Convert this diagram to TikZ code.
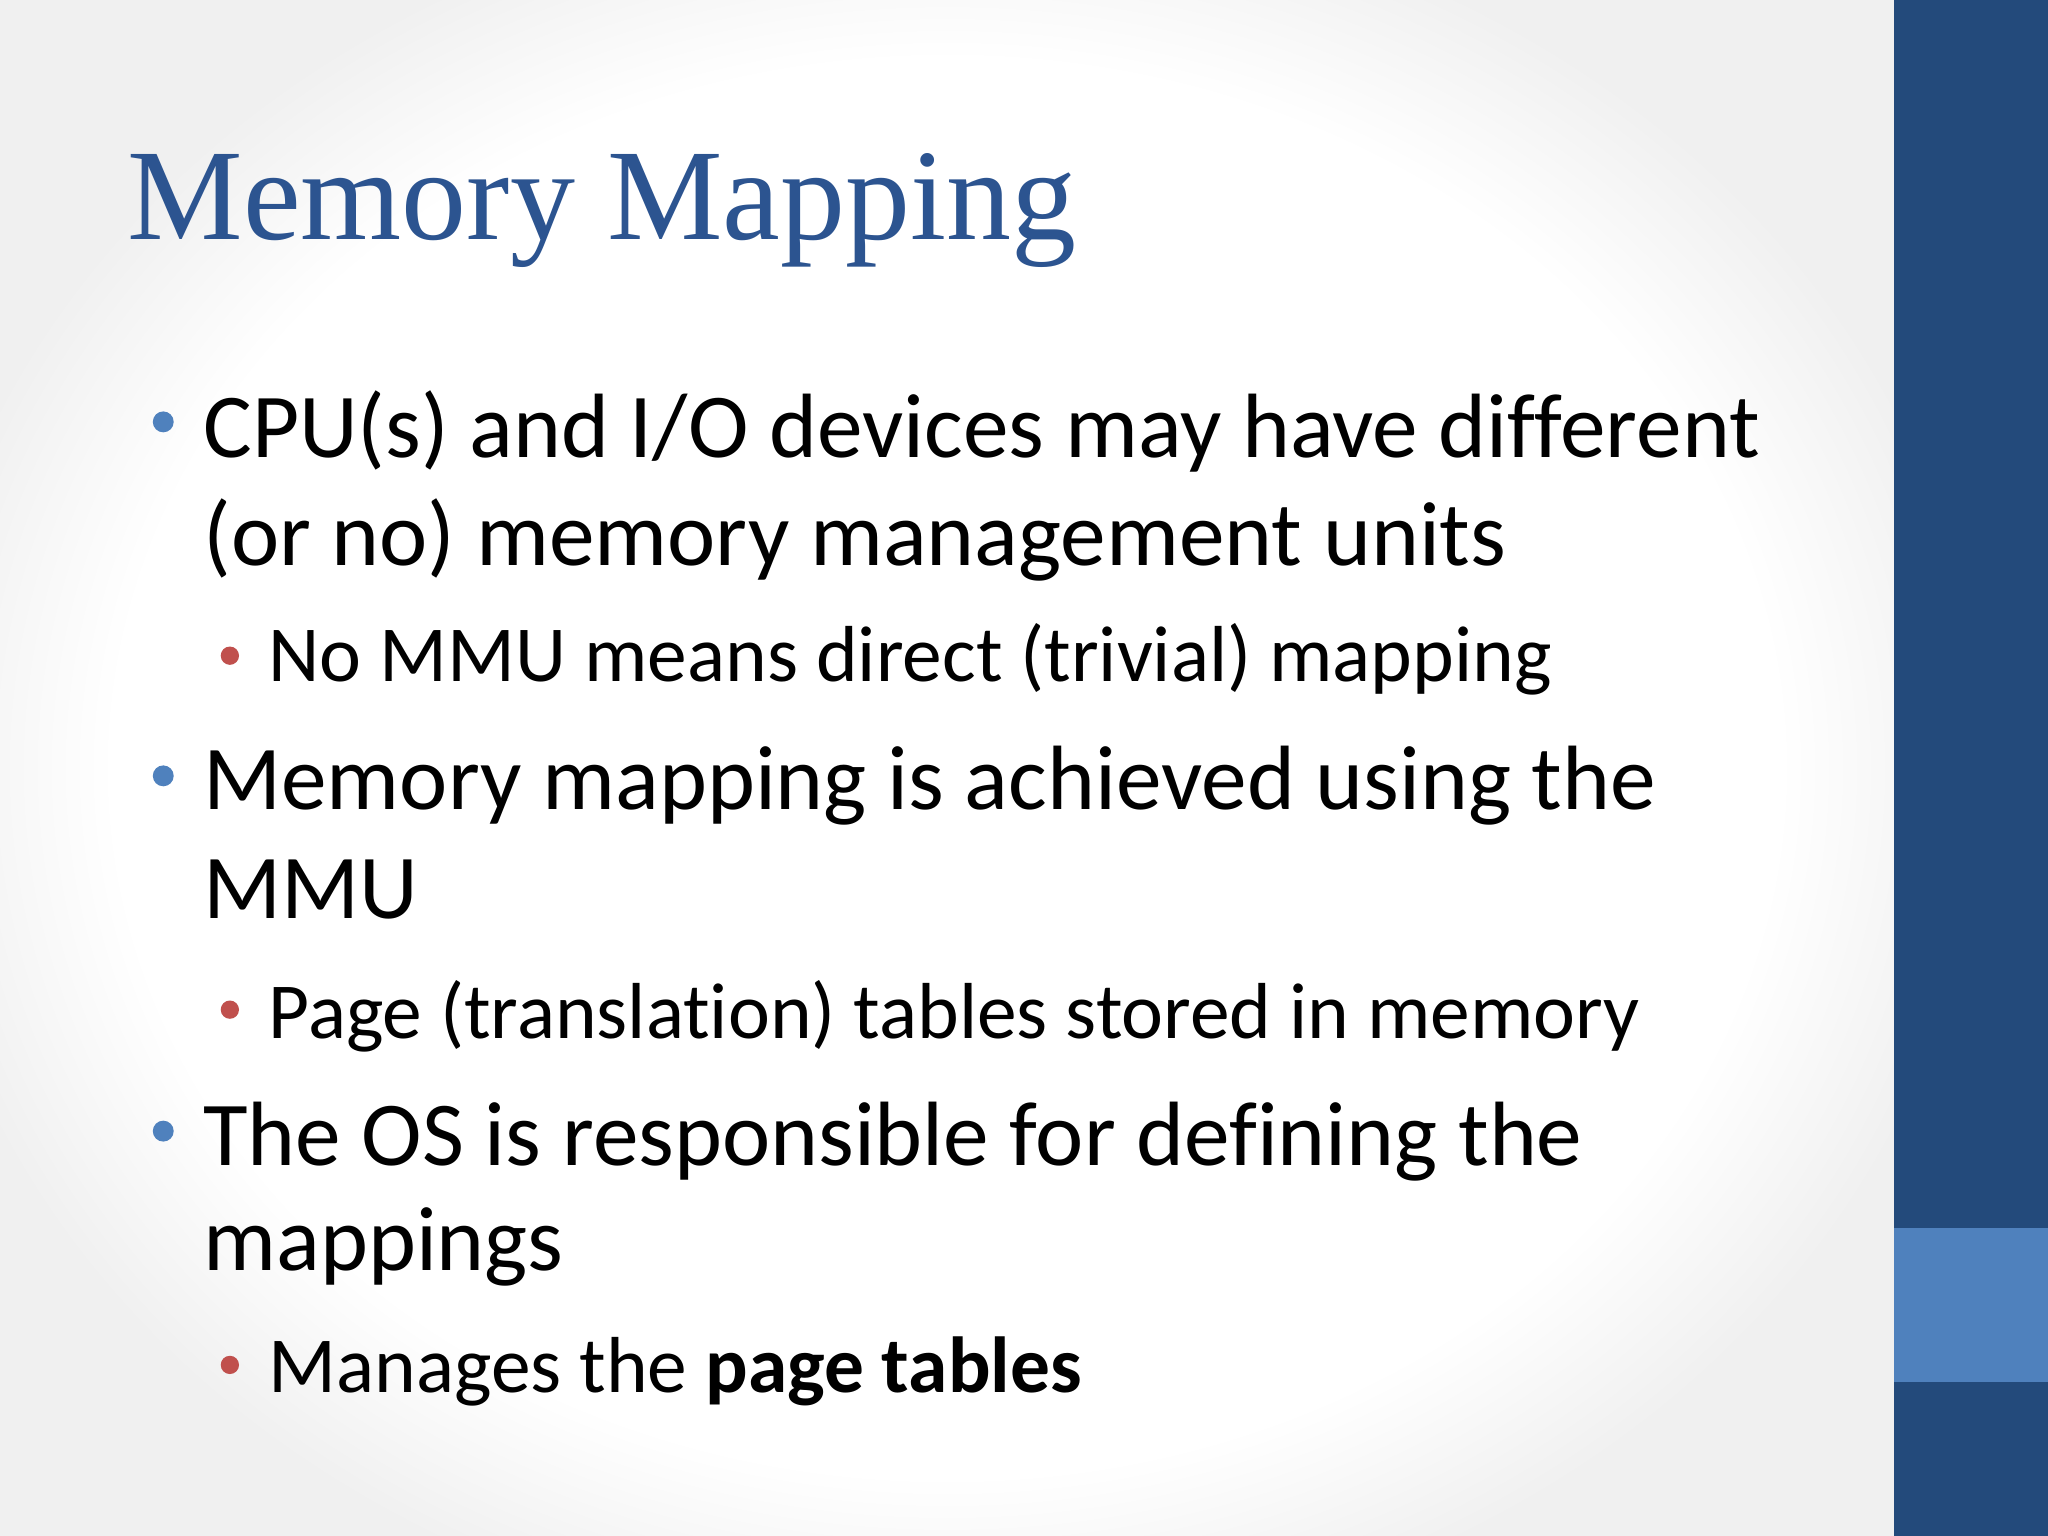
\documentclass[tikz,border=0pt]{standalone}
\usepackage{fontspec}
\usetikzlibrary{fadings}
\setmainfont[Ligatures=NoCommon]{Carlito}
\newfontfamily\titlefont{Liberation Serif}
\definecolor{darkbar}{HTML}{234A7B}
\definecolor{lightbar}{HTML}{4F81BD}
\definecolor{titleblue}{HTML}{2C5490}
\definecolor{bulblue}{HTML}{4F81BD}
\definecolor{bulred}{HTML}{C0504D}
\begin{document}
\begin{tikzpicture}[x=0.1mm,y=-0.1mm,
  main/.style={anchor=base west,inner sep=0,font=\fontsize{19.9}{24}\selectfont},
  sub/.style={anchor=base west,inner sep=0,font=\fontsize{17.3}{21}\selectfont},
  bdot/.style={fill=bulblue,draw=none},
  rdot/.style={fill=bulred,draw=none}]
\useasboundingbox (0,0) rectangle (1568,1176);
\fill[black!6] (0,0) rectangle (1450,1176);
\fill[white,path fading=circle with fuzzy edge 20 percent] (725,588) ellipse (800 and 680);
\fill[darkbar] (1450,0) rectangle (1568,1176);
\fill[lightbar] (1450,940) rectangle (1568,1058);
\node[anchor=base west,inner sep=0,text=titleblue,font=\titlefont\fontsize{28.3}{34}\selectfont] (title) at (97,183) {Memory Mapping};
\fill[bdot] (125,323) circle (8);
\node[main] (l1) at (155,350) {CPU(s) and I/O devices may have different};
\node[main] (l1b) at (155,433) {(or no) memory management units};
\fill[rdot] (176,502) circle (7);
\node[sub] (s1) at (205,522) {No MMU means direct (trivial) mapping};
\fill[bdot] (125,594) circle (8);
\node[main] (l2) at (155,620) {Memory mapping is achieved using the};
\node[main] (l2b) at (155,703) {MMU};
\fill[rdot] (176,773) circle (7);
\node[sub] (s2) at (205,795) {Page (translation) tables stored in memory};
\fill[bdot] (125,866) circle (8);
\node[main] (l3) at (155,892) {The OS is responsible for defining the};
\node[main] (l3b) at (155,973) {mappings};
\fill[rdot] (176,1045) circle (7);
\node[sub] (s3) at (205,1066) {Manages the \textbf{page tables}};
\end{tikzpicture}
\end{document}
